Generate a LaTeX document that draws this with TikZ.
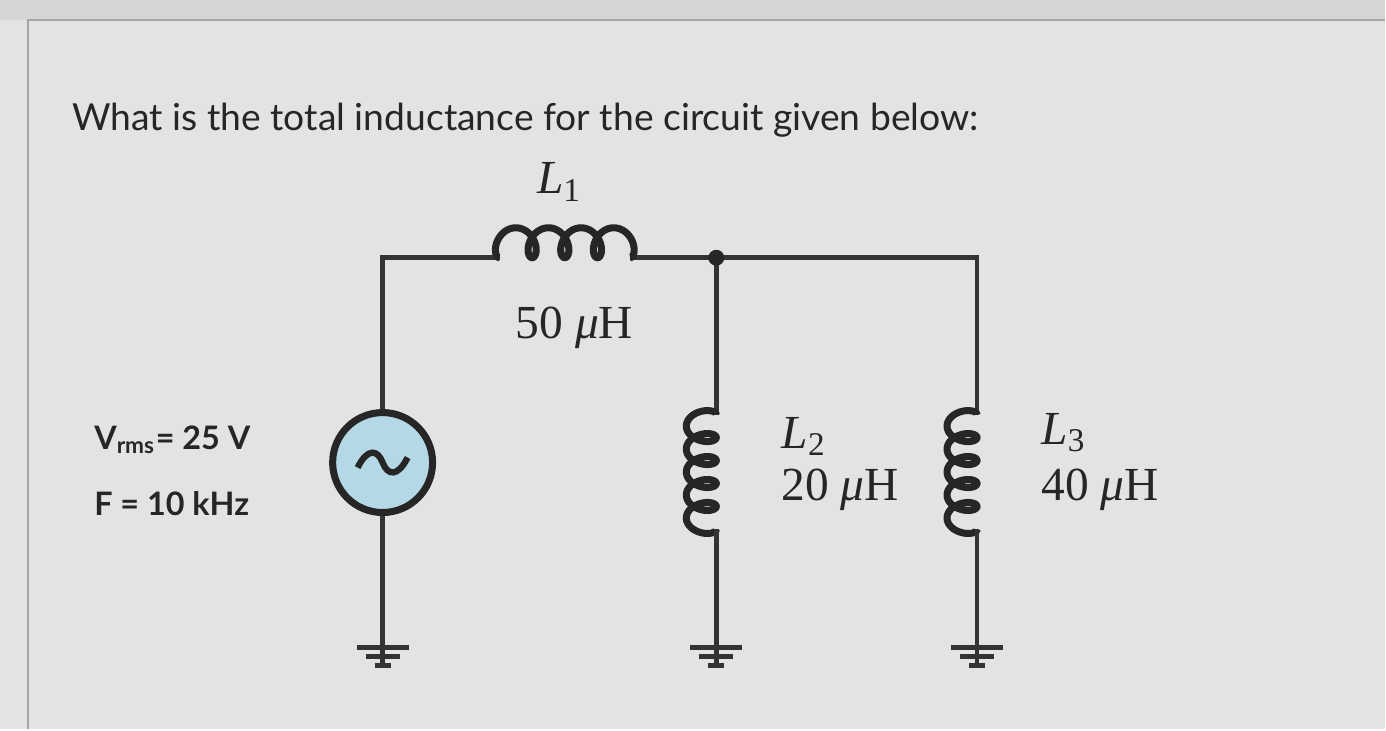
\documentclass[tikz,border=0pt]{standalone}
\usepackage{fontspec}
\setmainfont{Lato}
\newfontfamily\serifm{Liberation Serif}
\begin{document}
\begin{tikzpicture}[x=0.01cm,y=-0.01cm,
  wire/.style={line width=1.3pt,draw=black!80},
  coil/.style={line width=2pt,draw=black!85},
  lbl/.style={font=\serifm\fontsize{13.5}{15}\selectfont,text=black!85},
  sans/.style={font=\fontsize{9.2}{10}\selectfont\bfseries,text=black!85},
  gnd/.style={line width=1.6pt,draw=black!80}]
\fill[black!11] (0,0) rectangle (1386,730);
\fill[black!16] (0,0) rectangle (1386,20);
\draw[black!35,line width=0.8pt] (28,730) -- (28,20) -- (1386,20);
\node[anchor=west,font=\fontsize{10.6}{12}\selectfont,text=black!85] (title) at (60,120) {What is the total inductance for the circuit given below:};
\coordinate (tl) at (383,258);
\coordinate (c1a) at (500,258);
\coordinate (c1b) at (631,258);
\coordinate (j) at (717,258);
\coordinate (tr) at (978,258);
\coordinate (c2a) at (717,415);
\coordinate (c2b) at (717,530);
\coordinate (c3a) at (978,415);
\coordinate (c3b) at (978,530);
\node[draw=black!85,line width=2pt,circle,fill=cyan!25!white!90!black,minimum size=1cm,inner sep=0pt] (srcc) at (383,463) {};
\draw[line width=1.8pt,black!85] (358,468) .. controls (368,448) and (378,450) .. (383,463) .. controls (388,476) and (398,478) .. (408,458);
\draw[wire] (srcc.north) -- (tl) -- (c1a);
\draw[wire] (c1b) -- (tr) -- (c3a);
\draw[wire] (j) -- (c2a);
\fill[black!85] (j) circle (8);
\draw[coil] plot[domain=0:25.133,samples=240] ({500+5.2*\x-11*sin(\x r)},{258-15*(1-cos(\x r))});
\draw[coil] plot[domain=0:31.416,samples=280] ({717-15*(1-cos(\x r))},{415+3.66*\x-9*sin(\x r)});
\draw[coil] plot[domain=0:31.416,samples=280] ({978-15*(1-cos(\x r))},{415+3.66*\x-9*sin(\x r)});
\coordinate (g1) at (383,648);
\coordinate (g2) at (717,648);
\coordinate (g3) at (978,648);
\draw[wire] (srcc.south) -- (383,666);
\draw[wire] (c2b) -- (717,666);
\draw[wire] (c3b) -- (978,666);
\foreach \g in {g1,g2,g3}{
  \draw[gnd] (\g) ++(-26,0) -- ++(52,0);
  \draw[gnd] (\g) ++(-17,9) -- ++(34,0);
  \draw[gnd] (\g) ++(-8,18) -- ++(16,0);
}
\node[lbl] (l1) at (560,182) {\itshape L\textsubscript{\upshape 1}};
\node[lbl] (v1) at (575,328) {50 \textit{μ}H};
\node[lbl,anchor=west] (l2) at (770,437) {\itshape L\textsubscript{\upshape 2}};
\node[lbl,anchor=west] (v2) at (770,490) {20 \textit{μ}H};
\node[lbl,anchor=west] (l3) at (1030,433) {\itshape L\textsubscript{\upshape 3}};
\node[lbl,anchor=west] (v3) at (1030,490) {40 \textit{μ}H};
\node[sans,anchor=west] (vr) at (82,440) {V\textsubscript{rms}= 25 V};
\node[sans,anchor=west] (fr) at (82,504) {F = 10 kHz};
\end{tikzpicture}
\end{document}
